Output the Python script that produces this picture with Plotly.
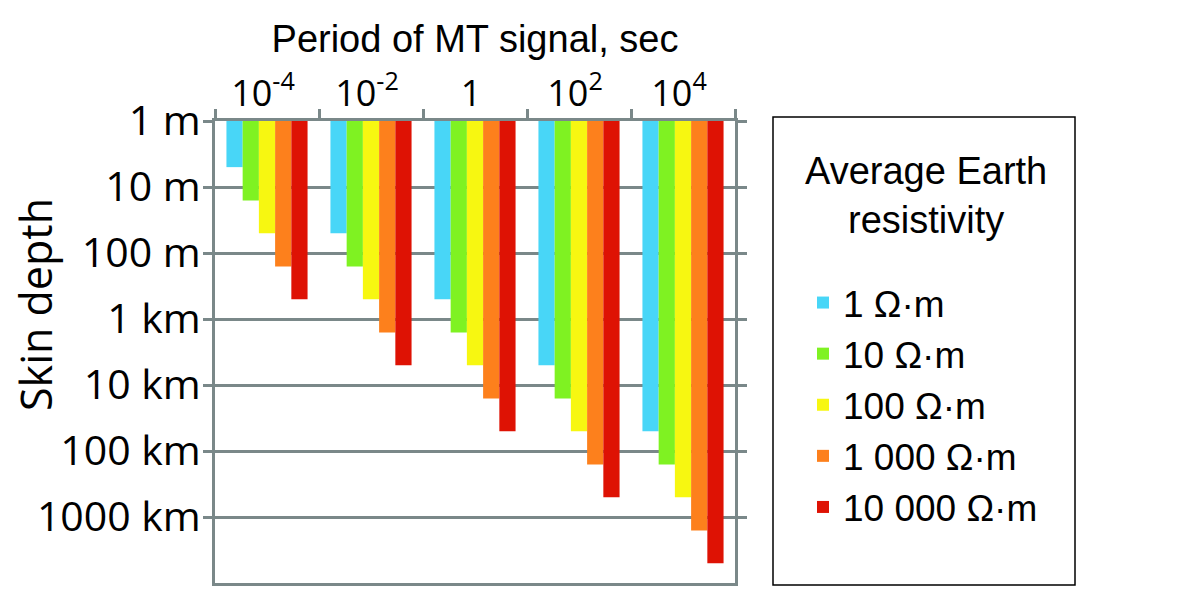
import plotly.graph_objects as go

# Categories: period of MT signal (s)
periods = ["10<sup>-4</sup>", "10<sup>-2</sup>", "1", "10<sup>2</sup>", "10<sup>4</sup>"]

# Skin depth in metres, per resistivity series
depth_1 = [5.0, 50, 500, 5000, 50000]
depth_10 = [16, 160, 1600, 16000, 160000]
depth_100 = [50, 500, 5000, 50000, 500000]
depth_1000 = [160, 1600, 16000, 160000, 1600000]
depth_10000 = [500, 5000, 50000, 500000, 5000000]

series_names = ["1 Ω·m", "10 Ω·m", "100 Ω·m", "1 000 Ω·m", "10 000 Ω·m"]
series_values = [depth_1, depth_10, depth_100, depth_1000, depth_10000]
series_colors = ["#48d6f7", "#7ff222", "#f7f711", "#fd801c", "#de1204"]

# Y tick labels
y_tickvals = [1, 10, 100, 1e3, 1e4, 1e5, 1e6]
y_ticktext = ["1 m", "10 m", "100 m", "1 km", "10 km", "100 km", "1000 km"]

BASE = 1.0  # bars hang from the 1 m line
AX = "#7a8889"

# plot area in page pixels (page is offset by the body margin)
OFF = 8
L, T, W, H = 215 - OFF, 121 - OFF, 520, 462


def px(xp):
    return (xp - 215) / W


def py(yp):
    return (583 - yp) / H


fig = go.Figure()
for name, vals, col in zip(series_names, series_values, series_colors):
    fig.add_trace(go.Bar(
        x=periods,
        y=[v - BASE for v in vals],
        base=[BASE] * len(vals),
        name=name,
        marker=dict(color=col, line=dict(width=0)),
        hovertemplate="%{x}: %{customdata:.3s} m<extra>" + name + "</extra>",
        customdata=vals,
    ))

fig.update_layout(
    width=1200, height=600,
    margin=dict(l=L, r=1200 - L - W, t=T, b=600 - T - H, autoexpand=False),
    paper_bgcolor="white", plot_bgcolor="white",
    barmode="group", bargap=0.22, bargroupgap=0,
    showlegend=True,
    legend=dict(
        x=px(803), y=py(272), xanchor="left", yanchor="top",
        font=dict(family="Liberation Sans, Arial", size=37, color="black"),
        bgcolor="rgba(0,0,0,0)", borderwidth=0,
    ),
    xaxis=dict(
        side="top", type="category",
        ticks="outside", tickson="boundaries", ticklen=9, tickwidth=3, tickcolor=AX,
        showline=True, linewidth=3, linecolor=AX, mirror=True,
        showgrid=False,
        tickfont=dict(family="Open Sans", size=36, color="black"),
        ticklabelshift=-4, ticklabelstandoff=-2,
        title=dict(text="Period of MT signal, sec",
                   font=dict(family="Liberation Sans, Arial", size=38, color="black"),
                   standoff=0),
    ),
    yaxis=dict(
        type="log", range=[7, 0], autorange=False,
        tickvals=y_tickvals, ticktext=y_ticktext,
        ticks="outside", ticklen=9, tickwidth=3, tickcolor=AX,
        showline=True, linewidth=3, linecolor=AX, mirror="ticks",
        showgrid=True, gridcolor=AX, gridwidth=3,
        zeroline=False,
        tickfont=dict(family="Open Sans", size=41, color="black"),
        ticklabelstandoff=-6,
    ),
    shapes=[dict(
        type="rect", xref="paper", yref="paper",
        x0=px(773), x1=px(1075), y0=py(585), y1=py(117),
        line=dict(color="black", width=1.5), fillcolor="rgba(0,0,0,0)",
        layer="below",
    )],
    annotations=[
        dict(text="Skin depth", textangle=-90, xref="paper", yref="paper",
             x=px(35), y=py(305), xanchor="center", yanchor="middle",
             showarrow=False, font=dict(family="Open Sans", size=43, color="black")),
        dict(text="Average Earth<br>resistivity", xref="paper", yref="paper",
             x=px(926), y=py(195), xanchor="center", yanchor="middle",
             showarrow=False, align="center",
             font=dict(family="Liberation Sans, Arial", size=38, color="black")),
    ],
)

fig.write_html("out.html")
